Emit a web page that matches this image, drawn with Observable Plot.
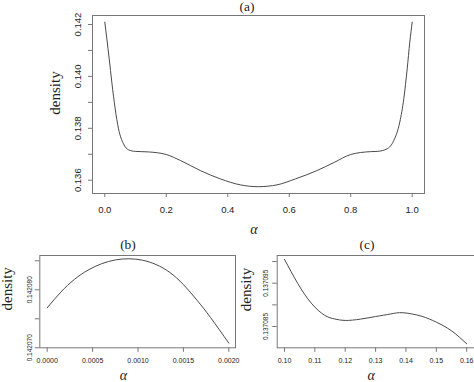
<!DOCTYPE html>
<html><head><meta charset="utf-8">
<script src="https://cdn.jsdelivr.net/npm/d3@7"></script>
<script src="https://cdn.jsdelivr.net/npm/@observablehq/plot@0.6"></script>
<style>
html,body{margin:0;padding:0;background:#fff;}
#chart{position:relative;width:474px;height:382px;overflow:hidden;background:#fff;}
#chart svg{position:absolute;left:0;top:0;}
</style></head><body><div id="chart"></div>
<script>
// ---- Panel (a) ----
const alphaA = [0, 0.0066, 0.0143, 0.0228, 0.0338, 0.0446, 0.0608, 0.0771, 0.099, 0.142, 0.2, 0.246, 0.311, 0.376, 0.441, 0.5,
                0.56, 0.62, 0.69, 0.747, 0.80, 0.864, 0.886, 0.9187, 0.9401, 0.9597, 0.9727, 0.9837, 0.9922, 1.0];
const densityA = [0.14209, 0.14145, 0.14068, 0.13978, 0.13875, 0.13798, 0.13740, 0.13717, 0.13711, 0.13709, 0.13699, 0.13676, 0.13637, 0.13605, 0.13582, 0.13575,
                  0.13582, 0.13605, 0.13637, 0.13669, 0.13699, 0.13710, 0.13711, 0.13721, 0.13753, 0.13824, 0.13914, 0.14029, 0.14132, 0.14209];
const xTicksA = [0, 0.2, 0.4, 0.6, 0.8, 1.0];
const xLabelsA = ["0.0", "0.2", "0.4", "0.6", "0.8", "1.0"];
const yTicksA = [0.136, 0.137, 0.138, 0.139, 0.140, 0.141, 0.142];
const yLabelsA = ["0.136", "", "0.138", "", "0.140", "", "0.142"];

// ---- Panel (b) ----
const alphaB = [0, 0.00015, 0.0003, 0.00045, 0.0006, 0.00075, 0.0009, 0.00105, 0.0012, 0.00135, 0.0015, 0.00165, 0.0018, 0.002];
const densityB = [0.1420769, 0.1420796, 0.1420818, 0.1420834, 0.1420845, 0.14208515, 0.14208535, 0.1420851, 0.14208435, 0.142083, 0.1420809, 0.1420782, 0.1420752, 0.1420708];
const xTicksB = [0, 0.0005, 0.001, 0.0015, 0.002];
const xLabelsB = ["0.0000", "0.0005", "0.0010", "0.0015", "0.0020"];
const yTicksB = [0.14207, 0.142075, 0.14208, 0.142085];
const yLabelsB = ["0.142070", "", "0.142080", ""];

// ---- Panel (c) ----
const alphaC = [0.1000, 0.1044, 0.1088, 0.1132, 0.1165, 0.1200, 0.1250, 0.1300, 0.1350, 0.1390, 0.1450, 0.1500, 0.1550, 0.1600];
const densityC = [0.1371005, 0.1370949, 0.1370904, 0.1370876, 0.13708675, 0.1370864, 0.1370867, 0.1370873, 0.1370879, 0.13708818,
                  0.1370874, 0.137086, 0.137084, 0.137081];
const xTicksC = [0.10, 0.11, 0.12, 0.13, 0.14, 0.15, 0.16];
const xLabelsC = ["0.10", "0.11", "0.12", "0.13", "0.14", "0.15", "0.16"];
const yTicksC = [0.137085, 0.13709, 0.137095, 0.1371];
const yLabelsC = ["0.137085", "", "0.137095", ""];

const W = 474, H = 382;
const SERIF = "Liberation Serif, Times New Roman, serif";
const SANS = "Liberation Sans, Arial, Helvetica, sans-serif";
const FRAME = "#777";
const INK = "#222";

function panel(p) {
  const data = p.alpha.map((a, i) => ({alpha: a, density: p.density[i]}));
  const [L, R, T, B] = p.frame;
  const lab = (labels, ticks) => d => labels[ticks.indexOf(d)];
  const txt = (s, x, y, o) => Plot.text([s], {
    text: d => d, frameAnchor: "top-left", dx: x - L, dy: y - T,
    lineAnchor: "bottom", textAnchor: "middle", fontFamily: SERIF, fill: INK, ...o
  });
  return Plot.plot({
    width: W, height: H,
    marginLeft: L, marginRight: W - R, marginTop: T, marginBottom: H - B,
    style: {background: "transparent"},
    x: {domain: p.xDomain, range: p.xRange, axis: null},
    y: {domain: p.yDomain, range: p.yRange, axis: null},
    marks: [
      Plot.frame({stroke: FRAME, strokeWidth: 1}),
      Plot.axisX({ticks: p.xTicks, tickFormat: lab(p.xLabels, p.xTicks), tickSize: p.tickSize,
        tickPadding: p.xPad, fontSize: p.xFont, fontFamily: SANS, stroke: FRAME, fill: INK, label: null}),
      Plot.axisY({ticks: p.yTicks, tickFormat: lab(p.yLabels, p.yTicks), tickSize: p.tickSize,
        tickPadding: p.yPad, tickRotate: -90, fontSize: p.yFont, fontFamily: SANS, stroke: FRAME, fill: INK, label: null}),
      Plot.line(data, {x: "alpha", y: "density", stroke: "#4a4a4a", strokeWidth: 1, curve: p.curve}),
      txt(p.title, p.titlePos[0], p.titlePos[1], {fontSize: p.titleSize}),
      txt("density", p.yLabPos[0], p.yLabPos[1], {fontSize: 15, rotate: -90}),
      txt("α", p.xLabPos[0], p.xLabPos[1], {fontSize: 14, fontStyle: "italic"})
    ]
  });
}

const chart = document.getElementById("chart");
chart.append(panel({
  alpha: alphaA, density: densityA, frame: [92, 424, 15, 193], curve: "monotone-x",
  xDomain: [0, 1], xRange: [104.3, 411.7], yDomain: [0.136, 0.142], yRange: [179.7, 24],
  xTicks: xTicksA, xLabels: xLabelsA, yTicks: yTicksA, yLabels: yLabelsA,
  tickSize: 4, xPad: 9, yPad: 8, xFont: 9.5, yFont: 9.5,
  title: "(a)", titlePos: [246.5, 10.5], titleSize: 13.5,
  yLabPos: [59.5, 92.5], xLabPos: [253.5, 233]
}));
chart.append(panel({
  alpha: alphaB, density: densityB, frame: [39.3, 235, 255, 347.3], curve: "natural",
  xDomain: [0, 0.002], xRange: [46.7, 228.3], yDomain: [0.14207, 0.14208], yRange: [347.3, 289.3],
  xTicks: xTicksB, xLabels: xLabelsB, yTicks: yTicksB, yLabels: yLabelsB,
  tickSize: 4.5, xPad: 6, yPad: 3, xFont: 7, yFont: 6.5,
  title: "(b)", titlePos: [127.5, 248.4], titleSize: 13.5,
  yLabPos: [11, 288.3], xLabPos: [123, 379.5]
}));
chart.append(panel({
  alpha: alphaC, density: densityC, frame: [276.7, 475, 255, 347.3], curve: "natural",
  xDomain: [0.10, 0.16], xRange: [284, 466.2], yDomain: [0.137085, 0.137095], yRange: [326, 282.7],
  xTicks: xTicksC, xLabels: xLabelsC, yTicks: yTicksC, yLabels: yLabelsC,
  tickSize: 4.5, xPad: 6, yPad: 5, xFont: 7, yFont: 6.5,
  title: "(c)", titlePos: [366.5, 248.4], titleSize: 13.5,
  yLabPos: [250, 289], xLabPos: [370.7, 379.5]
}));
</script></body></html>
